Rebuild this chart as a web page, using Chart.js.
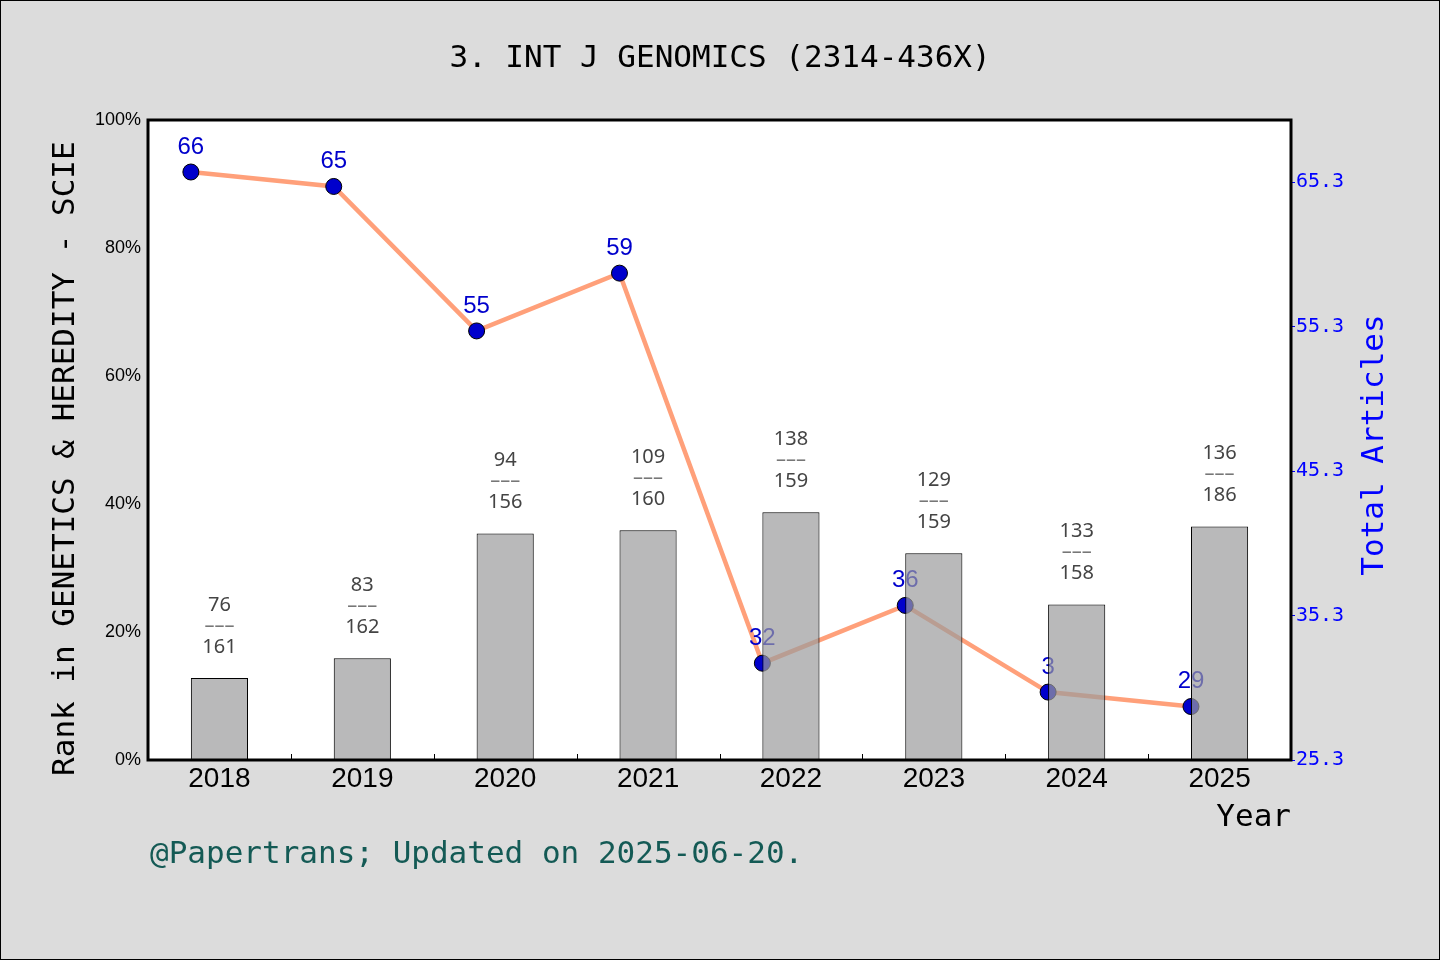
<!DOCTYPE html>
<html>
<head>
<meta charset="utf-8">
<script src="https://cdn.jsdelivr.net/npm/chart.js@4.4.1/dist/chart.umd.min.js"></script>
<style>
  html, body { margin: 0; padding: 0; background: #dcdcdc; }
  canvas { display: block; }
</style>
</head>
<body>
<canvas id="rankChart" width="1440" height="960"></canvas>
<script>
const years = ["2018", "2019", "2020", "2021", "2022", "2023", "2024", "2025"];
const rankPct = [12.8, 15.9, 35.4, 35.9, 38.7, 32.3, 24.3, 36.5];
const rankNum = [76, 83, 94, 109, 138, 129, 133, 136];
const rankTotal = [161, 162, 156, 160, 159, 159, 158, 186];
const articles = [66, 65, 55, 59, 32, 36, 30, 29];
const articleLabels = ["66", "65", "55", "59", "32", "36", "3", "29"];
const leftTicks = [0, 20, 40, 60, 80, 100];
const rightTicks = [25.3, 35.3, 45.3, 55.3, 65.3];

const MONO = "'DejaVu Sans Mono', monospace";
const SANS = "'Liberation Sans', Arial, sans-serif";

// background, frame, extra texts
const decor = {
  id: "decor",
  beforeDraw(chart) {
    const { ctx, chartArea: a } = chart;
    ctx.save();
    ctx.fillStyle = "#dcdcdc";
    ctx.fillRect(0, 0, chart.width, chart.height);
    ctx.fillStyle = "#ffffff";
    ctx.fillRect(a.left, a.top, a.right - a.left, a.bottom - a.top);
    ctx.restore();
  },
  afterDatasetDraw(chart, args) {
    // point labels go under the bars
    if (args.index !== 1) return;
    const ctx = chart.ctx;
    ctx.save();
    ctx.font = "24px " + SANS;
    ctx.fillStyle = "#0000cc";
    ctx.textAlign = "center";
    ctx.textBaseline = "middle";
    args.meta.data.forEach((pt, i) => {
      ctx.fillText(articleLabels[i], pt.x, pt.y - 25);
    });
    ctx.restore();
  },
  afterDatasetsDraw(chart) {
    const ctx = chart.ctx;
    const bars = chart.getDatasetMeta(0).data;
    ctx.save();
    ctx.font = "20px 'Noto Sans', sans-serif";
    ctx.textAlign = "center";
    ctx.textBaseline = "middle";
    bars.forEach((b, i) => {
      ctx.fillStyle = "#444";
      ctx.fillText(String(rankNum[i]), b.x, b.y - 73);
      ctx.fillText(String(rankTotal[i]), b.x, b.y - 31);
      ctx.fillStyle = "#777";
      ctx.fillText("\u2013\u2013\u2013", b.x, b.y - 52);
    });
    ctx.restore();
  },
  afterDraw(chart) {
    const { ctx, chartArea: a } = chart;
    ctx.save();
    // category boundary ticks
    const n = years.length;
    const step = (a.right - a.left) / n;
    ctx.strokeStyle = "#000";
    ctx.lineWidth = 1;
    for (let i = 1; i < n; i++) {
      const x = Math.round(a.left + i * step) + 0.5;
      ctx.beginPath();
      ctx.moveTo(x, a.bottom);
      ctx.lineTo(x, a.bottom - 6);
      ctx.stroke();
    }
    // plot frame
    ctx.lineWidth = 3;
    ctx.strokeRect(a.left, a.top, a.right - a.left, a.bottom - a.top);
    // outer border
    ctx.lineWidth = 1;
    ctx.strokeRect(0.5, 0.5, chart.width - 1, chart.height - 1);
    // right axis title
    ctx.font = "31px " + MONO;
    ctx.fillStyle = "#0000ff";
    ctx.textAlign = "center";
    ctx.textBaseline = "middle";
    ctx.translate(1375, 445);
    ctx.rotate(-Math.PI / 2);
    ctx.fillText("Total Articles", 0, 0);
    ctx.restore();
    // footer
    ctx.save();
    ctx.font = "31px " + MONO;
    ctx.fillStyle = "#145a55";
    ctx.textBaseline = "middle";
    ctx.fillText("@Papertrans; Updated on 2025-06-20.", 150, 855);
    ctx.restore();
  }
};

new Chart(document.getElementById("rankChart"), {
  type: "bar",
  data: {
    labels: years,
    datasets: [
      {
        label: "Rank",
        data: rankPct,
        xAxisID: "x",
        yAxisID: "y",
        backgroundColor: "rgba(155,155,156,0.7)",
        borderColor: "#000",
        borderWidth: 1,
        grouped: false,
        categoryPercentage: 1,
        barPercentage: 0.4,
        order: 0
      },
      {
        type: "line",
        label: "Total Articles",
        data: articles.map((v, i) => ({ x: i, y: v })),
        xAxisID: "x2",
        yAxisID: "y2",
        borderColor: "#ffa07a",
        borderWidth: 4.5,
        pointRadius: 8,
        pointBackgroundColor: "#0000cc",
        pointBorderColor: "#000",
        pointBorderWidth: 1,
        tension: 0,
        order: 1
      }
    ]
  },
  options: {
    responsive: false,
    animation: false,
    layout: { padding: { top: 0, left: 0, right: 0, bottom: 120 } },
    plugins: {
      legend: { display: false },
      tooltip: { enabled: false },
      title: {
        display: true,
        text: "3. INT J GENOMICS (2314-436X)",
        color: "#000",
        font: { family: MONO, size: 31, weight: "normal", lineHeight: 1.2 },
        padding: { top: 40, bottom: 42.8 }
      }
    },
    scales: {
      x: {
        grid: { display: false, drawTicks: false },
        border: { display: false },
        ticks: { color: "#000", font: { family: SANS, size: 28 }, padding: 2 },
        title: {
          display: true,
          text: "Year",
          align: "end",
          color: "#000",
          font: { family: MONO, size: 31, lineHeight: 1.2 },
          padding: { top: 0, bottom: 3 }
        },
        afterFit(s) { s.height = 80; }
      },
      // line points sit at the left edge of each bar
      x2: {
        type: "linear",
        display: false,
        offset: false,
        grid: { offset: false },
        min: -0.3,
        max: years.length - 0.3
      },
      y: {
        position: "left",
        min: 0,
        max: 100,
        grid: { display: false, drawTicks: false },
        border: { display: false },
        afterBuildTicks(s) { s.ticks = leftTicks.map((v) => ({ value: v })); },
        ticks: {
          color: "#000",
          font: { family: SANS, size: 18 },
          padding: 7,
          callback: (v) => v + "%"
        },
        title: {
          display: true,
          text: "Rank in GENETICS & HEREDITY - SCIE  ",
          color: "#000",
          font: { family: MONO, size: 31, lineHeight: 1.2 },
          padding: { top: 47, bottom: 0 }
        },
        afterFit(s) { s.width = 148; }
      },
      y2: {
        position: "right",
        min: 25.3,
        max: 69.6,
        grid: { drawOnChartArea: false, color: "#0000ff", tickLength: 4 },
        border: { display: false },
        afterBuildTicks(s) { s.ticks = rightTicks.map((v) => ({ value: v })); },
        ticks: {
          color: "#0000ff",
          font: { family: MONO, size: 20 },
          padding: 1,
          callback: (v) => v.toFixed(1)
        },
        afterFit(s) { s.width = 149; }
      }
    }
  },
  plugins: [decor]
});
</script>
</body>
</html>
